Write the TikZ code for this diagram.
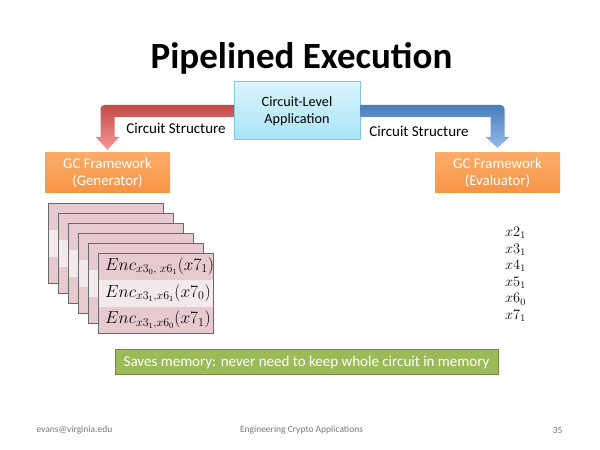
\documentclass[tikz,border=0pt]{standalone}
\usepackage{fontspec}
\setmainfont{Carlito}
\usetikzlibrary{positioning,calc}

\definecolor{apptop}{RGB}{218,244,252}
\definecolor{appbot}{RGB}{168,228,247}
\definecolor{appline}{RGB}{130,200,225}
\definecolor{gctop}{RGB}{251,172,105}
\definecolor{gcbot}{RGB}{247,148,68}
\definecolor{redtop}{RGB}{195,75,72}
\definecolor{redbot}{RGB}{246,150,150}
\definecolor{bluetop}{RGB}{74,125,190}
\definecolor{bluebot}{RGB}{145,185,232}
\definecolor{cardpink}{RGB}{230,202,207}
\definecolor{cardlight}{RGB}{243,232,234}
\definecolor{cardline}{RGB}{105,105,105}
\definecolor{memgreen}{RGB}{155,187,89}
\definecolor{memline}{RGB}{113,137,63}
\definecolor{footgray}{RGB}{120,120,120}

\begin{document}
\begin{tikzpicture}[x=1pt,y=1pt]
	\tikzstyle{appbox} = [draw=appline, line width=1pt, top color=apptop, bottom color=appbot, minimum width=126pt, minimum height=58pt, align=center, font={\fontsize{14.2}{16.5}\selectfont}]
	\tikzstyle{gcbox} = [top color=gctop, bottom color=gcbot, text=white, minimum width=125pt, minimum height=40pt, align=center, font={\fontsize{14.8}{17}\selectfont}]
	\tikzstyle{lbl} = [font={\fontsize{15}{17}\selectfont}]
	\tikzstyle{card} = [draw=cardline, line width=1.2pt, fill=cardpink, minimum width=115pt, minimum height=80pt, anchor=north west, inner sep=0pt, path picture={\fill[cardlight] ($(path picture bounding box.north west)!1/3!(path picture bounding box.south west)$) rectangle ($(path picture bounding box.north east)!2/3!(path picture bounding box.south east)$);}]
	\tikzstyle{enc} = [anchor=west, inner sep=0pt, font={\fontsize{17}{20}\selectfont}]
	\tikzstyle{var} = [anchor=west, inner sep=0pt, font={\fontsize{14}{16}\selectfont}]
	\tikzstyle{memo} = [draw=memline, line width=1pt, fill=memgreen, text=white, minimum width=383pt, minimum height=25pt, font={\fontsize{15}{17}\selectfont}]
	\tikzstyle{foot} = [text=footgray, font={\fontsize{9.5}{11}\selectfont}]
	\useasboundingbox[fill=white] (0,0) rectangle (600,450);
	\node[anchor=base, font={\fontsize{37}{41}\selectfont\bfseries}] (title) at (301.5,381) {Pipelined Execution};
	\node[appbox] (app) at (297,339) {Circuit-Level\\Application};
	\node[gcbox] (gen) at (107.5,277) {GC Framework\\(Generator)};
	\node[gcbox] (eva) at (497.5,277) {GC Framework\\(Evaluator)};
	% circuit structure goes out to both sides
	\shade[top color=redtop, bottom color=redbot] ([yshift=6]app.west) [rounded corners=4pt] -- ($(gen.north |- app.west)+(-7,6)$) [sharp corners] -- ($(gen.north)+(-7,16)$) -- ($(gen.north)+(-12,16)$) -- ($(gen.north)+(0,3)$) -- ($(gen.north)+(12,16)$) -- ($(gen.north)+(7,16)$) -- ($(gen.north |- app.west)+(7,-6)$) -- ([yshift=-6]app.west) -- cycle;
	\shade[top color=bluetop, bottom color=bluebot] ([yshift=6]app.east) [rounded corners=4pt] -- ($(eva.north |- app.east)+(7,6)$) [sharp corners] -- ($(eva.north)+(7,16)$) -- ($(eva.north)+(12,16)$) -- ($(eva.north)+(0,5)$) -- ($(eva.north)+(-12,16)$) -- ($(eva.north)+(-7,16)$) -- ($(eva.north |- app.east)+(-7,-6)$) -- ([yshift=-6]app.east) -- cycle;
	\node[lbl] (ls) at (176,322) {Circuit Structure};
	\node[lbl] (rs) at (419,319) {Circuit Structure};
	% stack of garbled tables, only the front one is readable
	\foreach \i in {0,...,5}
		\node[card] (card\i) at (48+10*\i,247-10*\i) {};
	\node[enc] (ea) at ($(card5.north west)+(7,-13.3)$) {$Enc_{x3_0,\;x6_1}(x7_1)$};
	\node[enc] (eb) at ($(card5.north west)+(7,-40)$) {$Enc_{x3_1,x6_1}(x7_0)$};
	\node[enc] (ec) at ($(card5.north west)+(7,-66.7)$) {$Enc_{x3_1,x6_0}(x7_1)$};
	% wire labels at the evaluator
	\foreach \v [count=\k] in {x2_1,x3_1,x4_1,x5_1,x6_0,x7_1}
		\node[var] (v\k) at (505,233.6-16.6*\k) {$\v$};
	\node[memo] (mem) at (306.5,87.5) {Saves memory: never need to keep whole circuit in memory};
	\node[foot, anchor=west] (mail) at (33,20) {evans@virginia.edu};
	\node[foot] (course) at (301.5,20) {Engineering Crypto Applications};
	\node[foot, anchor=east] (page) at (566,20) {35};
\end{tikzpicture}
\end{document}
